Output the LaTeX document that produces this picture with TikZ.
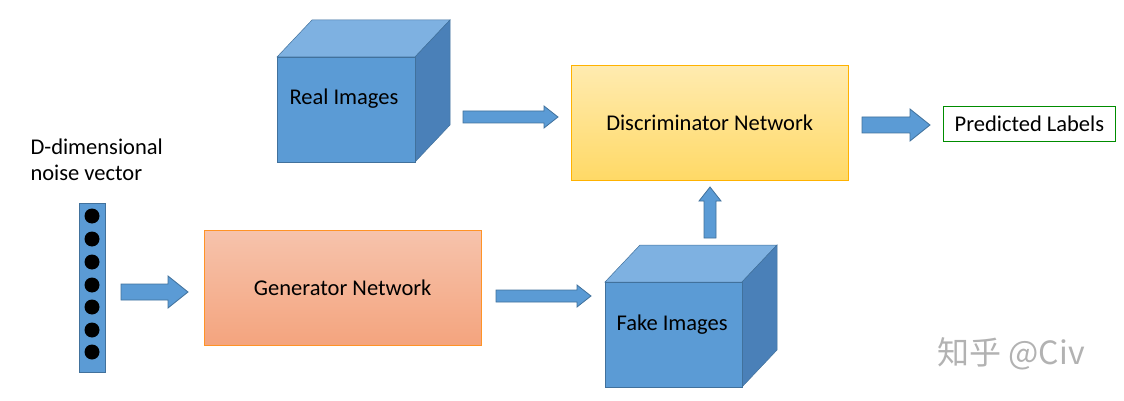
\documentclass[tikz,border=0pt]{standalone}
\usepackage{fontspec}
\setmainfont{Carlito}
\newfontfamily\cjk{Noto Sans CJK SC}
\definecolor{cfront}{HTML}{5B9BD5}
\definecolor{ctop}{HTML}{7EB1E1}
\definecolor{cside}{HTML}{4A80B8}
\definecolor{cedge}{HTML}{41719C}
\definecolor{ytop}{HTML}{FFEBB0}
\definecolor{ybot}{HTML}{FFD966}
\definecolor{gtop}{HTML}{F6C3AC}
\definecolor{gbot}{HTML}{F4A47E}
\tikzset{
 x=1pt,y=-1pt,
 lbl/.style={font=\fontsize{22.5}{26}\selectfont},
 barrow/.style={fill=cfront,draw=cedge,line width=0.8pt},
}
% block arrow: name, x, y, length, shaft half width, head half width, head length, rotation
\newcommand{\blockarrow}[8]{%
 \coordinate (#1) at (#2,#3);
 \draw[barrow,rotate around={#8:(#2,#3)}] (#2,#3-#5) -- (#2+#4-#7,#3-#5) -- (#2+#4-#7,#3-#6) -- (#2+#4,#3) -- (#2+#4-#7,#3+#6) -- (#2+#4-#7,#3+#5) -- (#2,#3+#5) -- cycle;
}
\newcommand{\mycube}[5]{% name, x, y, w, h
 \fill[ctop,draw=cedge,line width=0.5pt] (#2,#3) -- ++(35,-37) -- ++(#4,0) -- ++(-35,37) -- cycle;
 \fill[cside,draw=cedge,line width=0.5pt] (#2+#4,#3) -- ++(35,-37) -- ++(0,#5) -- ++(-35,37) -- cycle;
 \node[fill=cfront,draw=cedge,line width=0.5pt,minimum width=#4,minimum height=#5,anchor=north west,inner sep=0pt] (#1) at (#2,#3) {};
}
\begin{document}
\begin{tikzpicture}
\useasboundingbox (0,0) rectangle (1124,401);
\mycube{real}{277}{57}{138}{105}
\node[lbl,anchor=west] at (286,99) {Real Images};
\mycube{fake}{605}{282}{137}{105}
\node[lbl,anchor=west] at (613,325) {Fake Images};
\node[draw=orange!60!yellow,top color=ytop,bottom color=ybot,minimum width=277,minimum height=115,anchor=north west] (disc) at (571,65) {};
\node[lbl] at (disc.center) {Discriminator Network};
\node[draw=orange!85,top color=gtop,bottom color=gbot,minimum width=277,minimum height=115,anchor=north west] (gen) at (204,230) {};
\node[lbl] at (gen.center) {Generator Network};
\node[draw=green!55!black,line width=0.8pt,minimum width=172,minimum height=35,anchor=north west,inner sep=0pt] (pred) at (943,106) {};
\node[lbl] at (pred.center) {Predicted Labels};
\node[fill=cfront,draw=cedge,line width=0.8pt,minimum width=26,minimum height=169,anchor=north west,inner sep=0pt] (noise) at (79,203) {};
\foreach \yy in {216,239,262,285,307,330,352} \fill (92,\yy) circle (7.5);
\node[lbl,anchor=west,align=left] at (27,160) {D-dimensional\\noise vector};
\blockarrow{a1}{121}{292}{67}{8}{16}{20}{0}
\blockarrow{a2}{496}{296}{95}{6}{11}{14}{0}
\blockarrow{a3}{463}{117}{95}{6}{11}{14}{0}
\blockarrow{a4}{862}{125}{68}{8}{16}{20}{0}
\blockarrow{a5}{710}{238}{51}{6}{11}{14}{90}
\node[text=gray!60,font=\cjk\fontsize{32}{36}\selectfont,anchor=west] at (934,354) {知乎 @Civ};
\end{tikzpicture}
\end{document}
